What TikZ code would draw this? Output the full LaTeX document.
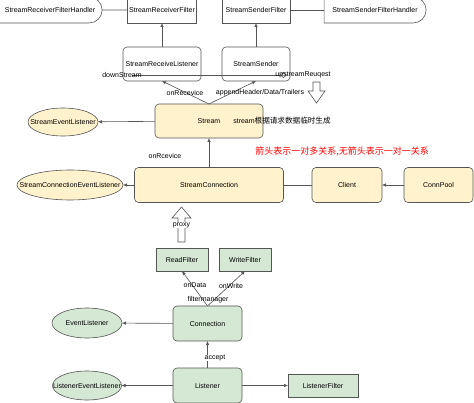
\documentclass[tikz,border=0pt]{standalone}
\usepackage{fontspec}
\setsansfont{Liberation Sans}
\newfontfamily\cjk{Noto Sans CJK SC}
\usetikzlibrary{arrows.meta,shapes.geometric,shapes.misc}
\definecolor{ylfill}{HTML}{FFF2CC}
\definecolor{grfill}{HTML}{D5E8D4}
\definecolor{edgegray}{HTML}{555555}
\begin{document}
\begin{tikzpicture}[x=1pt, y=-1pt, font=\sffamily\fontsize{7pt}{8pt}\selectfont,
    every node/.style={inner sep=1pt, outer sep=0pt, anchor=center},
    wbox/.style={draw=edgegray, fill=white, line width=0.6pt},
    wround/.style={wbox, rounded corners=4pt},
    ybox/.style={draw=edgegray, fill=ylfill, line width=0.6pt, rounded corners=4pt},
    gbox/.style={draw=edgegray, fill=grfill, line width=0.6pt, rounded corners=4pt},
    gsq/.style={draw=edgegray, fill=grfill, line width=0.6pt},
    yell/.style={ellipse, draw=edgegray, fill=ylfill, line width=0.6pt, inner sep=0pt},
    gell/.style={ellipse, draw=edgegray, fill=grfill, line width=0.6pt, inner sep=0pt},
    handler/.style={rounded rectangle, rounded rectangle left arc=none, draw=edgegray, fill=white, line width=0.6pt},
    link/.style={draw=edgegray, line width=0.6pt},
    arr/.style={link, -{Latex[length=4pt, width=3.5pt]}},
    hollow/.style={draw=edgegray, fill=white, line width=0.6pt, line join=miter},
    lbl/.style={inner sep=0.5pt}]
    \useasboundingbox (0,0) rectangle (474,403);

        % Filters
        \node[handler, minimum width=106pt, minimum height=26pt] (recvHandler) at (50, 10) {\raisebox{-2pt}{StreamReceiverFilterHandler}};
        \node[wbox, minimum width=69pt, minimum height=26pt] (recvFilter) at (162, 10) {\raisebox{-2pt}{StreamReceiverFilter}};
        \node[wbox, minimum width=68pt, minimum height=26pt] (sendFilter) at (256, 10) {\raisebox{-2pt}{StreamSenderFilter}};
        \node[handler, minimum width=104pt, minimum height=26pt] (sendHandler) at (375, 10) {\raisebox{-2pt}{StreamSenderFilterHandler}};
        \draw[link] (recvHandler) -- (recvFilter);
        \draw[link] (sendFilter) -- (sendHandler);

        \node[wround, minimum width=78pt, minimum height=34pt] (recvListener) at (162, 64) {StreamReceiveListener};
        \node[wround, minimum width=68pt, minimum height=34pt] (sender) at (256, 64) {StreamSender};
        \draw[arr] (recvListener) -- (recvFilter);
        \draw[arr] (sender) -- (sendFilter);

        \coordinate (dsStart) at (132, 75);
        \coordinate (usEnd) at (287, 75);
        \draw[link, -{Diamond[open, length=7pt, width=6pt]}] (dsStart) -- (usEnd);
        \node[lbl] (downLbl) at (122, 75) {downStream};
        \node[lbl] (upLbl) at (303, 75) {upstreamReuqest};
        \draw[hollow] (313, 82) -- (320, 82) -- (320, 91) -- (325, 91) -- (316.5, 103) -- (308, 91) -- (313, 91) -- cycle;

        % Stream
        \node[ybox, minimum width=108pt, minimum height=34pt] (stream) at (209, 121) {Stream};
        \node[lbl] (streamNote) at (282, 121) {stream{\cjk\fontsize{7.6pt}{9pt}\selectfont 根据请求数据临时生成}};
        \node[yell, minimum width=70pt, minimum height=28pt] (streamEvt) at (63, 122) {\makebox[0pt]{StreamEventListener}};
        \draw[arr] (stream.north) -- (recvListener.south);
        \draw[arr] (stream.north) -- (sender.south);
        \node[lbl] (onRecv) at (185, 93) {onRecevice};
        \node[lbl] (appendLbl) at (260, 93) {appendHeader/Data/Trailers};
        \draw[arr] (stream) -- (streamEvt);

        % StreamConnection
        \node[text=red, font=\cjk\fontsize{9pt}{11pt}\selectfont] (redNote) at (342, 152) {箭头表示一对多关系,无箭头表示一对一关系};
        \node[lbl] (onRcv) at (165, 156) {onRcevice};
        \node[ybox, minimum width=149pt, minimum height=35pt] (streamConn) at (209, 185) {StreamConnection};
        \node[yell, minimum width=106pt, minimum height=30pt] (connEvt) at (70, 185) {\makebox[0pt]{StreamConnectionEventListener}};
        \node[ybox, minimum width=70pt, minimum height=35pt] (client) at (347, 185) {Client};
        \node[ybox, minimum width=69pt, minimum height=35pt] (connPool) at (438.5, 185) {ConnPool};
        \draw[arr] (streamConn) -- (stream);
        \draw[arr] (streamConn) -- (connEvt);
        \draw[link] (client) -- (streamConn);
        \draw[arr] (connPool) -- (client);

        \draw[hollow] (178, 242) -- (178, 218) -- (172, 218) -- (181.5, 207) -- (191, 218) -- (185, 218) -- (185, 242) -- cycle;
        \node[lbl, fill=white] (proxyLbl) at (181.5, 225) {proxy};

        % Connection
        \node[gsq, minimum width=52pt, minimum height=23pt] (readF) at (182, 259.5) {ReadFilter};
        \node[gsq, minimum width=52pt, minimum height=23pt] (writeF) at (245, 259.5) {WriteFilter};
        \node[gbox, minimum width=69pt, minimum height=35pt] (conn) at (207.5, 323.5) {Connection};
        \node[gell, minimum width=70pt, minimum height=30pt] (evtL) at (87, 323) {\makebox[0pt]{EventListener}};
        \draw[arr] (conn.north) -- (readF.south);
        \draw[arr] (conn.north) -- (writeF.south);
        \node[lbl] (onDataLbl) at (195, 285) {onData};
        \node[lbl] (onWriteLbl) at (231, 286) {onWrite};
        \node[lbl] (fmLbl) at (208, 300) {filtermanager};
        \draw[arr] (conn) -- (evtL);

        % Listener
        \node[gbox, minimum width=69pt, minimum height=35pt] (listener) at (207.5, 385.5) {Listener};
        \node[gell, minimum width=69pt, minimum height=29pt] (lsnEvt) at (87, 385.5) {\makebox[0pt]{ListenerEventListener}};
        \node[gsq, minimum width=70pt, minimum height=23pt] (lsnFilter) at (323, 385.5) {ListenerFilter};
        \draw[arr] (listener) -- (conn);
        \node[lbl, fill=white] (acceptLbl) at (215, 358) {accept};
        \draw[arr] (listener) -- (lsnEvt);
        \draw[arr] (listener) -- (lsnFilter);
\end{tikzpicture}
\end{document}
